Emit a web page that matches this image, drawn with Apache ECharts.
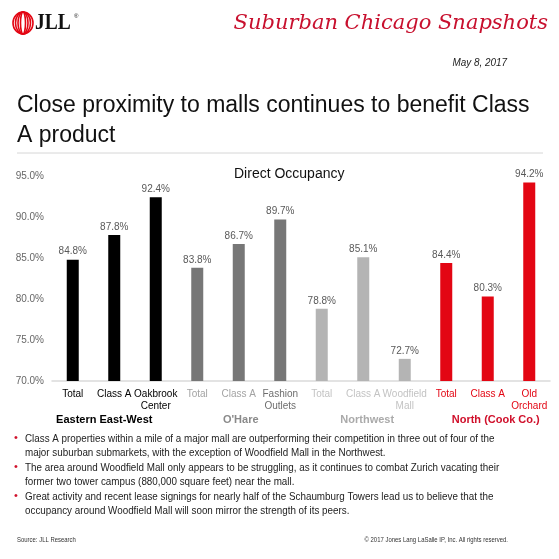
<!DOCTYPE html>
<html>
<head>
<meta charset="utf-8">
<script src="https://cdn.jsdelivr.net/npm/echarts@6/dist/echarts.min.js"></script>
<style>
html, body { margin: 0; padding: 0; background: #fff; }
#chart { width: 559px; height: 559px; }
</style>
</head>
<body>
<div id="chart"></div>
<script>
// values
const categories = ['Total', 'Class A', 'Oakbrook\nCenter', 'Total', 'Class A', 'Fashion\nOutlets',
    'Total', 'Class A', 'Woodfield\nMall', 'Total', 'Class A', 'Old\nOrchard']
const occupancy = [84.8, 87.8, 92.4, 83.8, 86.7, 89.7, 78.8, 85.1, 72.7, 84.4, 80.3, 94.2]
const submarkets = ['Eastern East-West', "O'Hare", 'Northwest', 'North (Cook Co.)']
const yTicks = [70, 75, 80, 85, 90, 95]

const barColors = ['#000000', '#777777', '#b4b4b4', '#e30613']
const labelStyles = ['c0', 'c0', 'c0', 'c1', 'c1', 'c2', 'c3', 'c3', 'c3', 'c4', 'c4', 'c4']

const font = "'Liberation Sans', Arial, sans-serif"
const red = '#d0102b'

const chart = echarts.init(document.getElementById('chart'), null, {renderer: 'canvas'})

const bullets = [
    'Class A properties within a mile of a major mall are outperforming their competition in three out of four of the\nmajor suburban submarkets, with the exception of Woodfield Mall in the Northwest.',
    'The area around Woodfield Mall only appears to be struggling, as it continues to combat Zurich vacating their\nformer two tower campus (880,000 square feet) near the mall.',
    'Great activity and recent lease signings for nearly half of the Schaumburg Towers lead us to believe that the\noccupancy around Woodfield Mall will soon mirror the strength of its peers.'
]

const graphics = []
// JLL logo
;[10, 7.5, 5, 2.5].forEach(function (rx) {
    graphics.push({
        type: 'ellipse',
        shape: {cx: 23, cy: 23, rx: rx, ry: 11},
        style: {fill: null, stroke: '#e30613', lineWidth: 1.6}
    })
})
graphics.push({
    type: 'text', x: 35, y: 12, scaleX: 0.85,
    style: {text: 'JLL', font: "bold 23px 'Liberation Serif', serif", fill: '#111'}
})
graphics.push({
    type: 'text', x: 74, y: 13,
    style: {text: '®', font: "6px 'Liberation Sans'", fill: '#111'}
})
graphics.push({
    type: 'text', x: 548, y: 13,
    style: {text: 'Suburban Chicago Snapshots', align: 'right', font: "italic 21px 'DejaVu Serif', serif", fill: '#c8102e'}
})
graphics.push({
    type: 'text', x: 507, y: 57, scaleX: 0.9,
    style: {text: 'May 8, 2017', align: 'right', font: "italic 11px " + font, fill: '#222'}
})
graphics.push({
    type: 'text', x: 17, y: 91,
    style: {text: 'Close proximity to malls continues to benefit Class\nA product', font: "23px " + font, lineHeight: 29.5, fill: '#111'}
})
graphics.push({
    type: 'line', shape: {x1: 17, y1: 153, x2: 543, y2: 153},
    style: {stroke: '#d6d6d6', lineWidth: 1}
})
bullets.forEach(function (b, i) {
    graphics.push({
        type: 'text', x: 14, y: 432 + i * 29,
        style: {text: '•', font: "11px " + font, fill: red}
    })
    graphics.push({
        type: 'text', x: 25, y: 431.5 + i * 29, scaleX: 0.855,
        style: {text: b, font: "11.5px " + font, lineHeight: 14.3, fill: '#222'}
    })
})
graphics.push({
    type: 'text', x: 17, y: 537, scaleX: 0.85,
    style: {text: 'Source: JLL Research', font: "7px " + font, fill: '#333'}
})
graphics.push({
    type: 'text', x: 508, y: 537, scaleX: 0.85,
    style: {text: '© 2017 Jones Lang LaSalle IP, Inc. All rights reserved.', align: 'right', font: "7px " + font, fill: '#333'}
})

const option = {
    animation: false,
    backgroundColor: '#fff',
    textStyle: {fontFamily: font},
    title: {
        text: 'Direct Occupancy',
        left: 229,
        top: 162,
        textStyle: {fontSize: 14, fontWeight: 'normal', color: '#111', fontFamily: font}
    },
    grid: {left: 52, right: 9, top: 176, bottom: 178},
    xAxis: [
        {
            type: 'category',
            data: categories,
            axisLine: {lineStyle: {color: '#dadada', width: 1.5}},
            axisTick: {show: false},
            axisLabel: {
                interval: 0,
                margin: 7,
                fontSize: 10,
                lineHeight: 12,
                formatter: function (v, i) {
                    return '{' + labelStyles[i] + '|' + v.split('\n').join('}\n{' + labelStyles[i] + '|') + '}'
                },
                rich: {
                    c0: {color: '#000', fontSize: 10, lineHeight: 12},
                    c1: {color: '#a3a3a3', fontSize: 10, lineHeight: 12},
                    c2: {color: '#6e6e6e', fontSize: 10, lineHeight: 12},
                    c3: {color: '#c3c3c3', fontSize: 10, lineHeight: 12},
                    c4: {color: '#e30613', fontSize: 10, lineHeight: 12}
                }
            }
        },
        {
            type: 'category',
            position: 'bottom',
            data: submarkets,
            axisLine: {show: false},
            axisTick: {show: false},
            axisLabel: {
                interval: 0,
                margin: 33,
                formatter: function (v, i) {
                    return '{g' + i + '|' + v + '}'
                },
                rich: {
                    g0: {color: '#000', fontWeight: 'bold', fontSize: 11, padding: [0, 20, 0, 0]},
                    g1: {color: '#8a8a8a', fontWeight: 'bold', fontSize: 11, padding: [0, 0, 0, 4]},
                    g2: {color: '#aaaaaa', fontWeight: 'bold', fontSize: 11, padding: [0, 0, 0, 8]},
                    g3: {color: '#d0102b', fontWeight: 'bold', fontSize: 11, padding: [0, 0, 0, 16]}
                }
            }
        }
    ],
    yAxis: {
        type: 'value',
        min: yTicks[0],
        max: yTicks[yTicks.length - 1],
        interval: 5,
        axisLine: {show: false},
        axisTick: {show: false},
        splitLine: {show: false},
        axisLabel: {
            fontSize: 10,
            color: '#666',
            margin: 8,
            formatter: function (v) {
                return v.toFixed(1) + '%'
            }
        }
    },
    series: [
        {
            type: 'bar',
            barWidth: 12,
            data: occupancy.map(function (v, i) {
                return {value: v, itemStyle: {color: barColors[Math.floor(i / 3)]}}
            }),
            label: {
                show: true,
                position: 'top',
                distance: 3,
                fontSize: 10,
                color: '#595959',
                formatter: function (p) {
                    return p.value.toFixed(1) + '%'
                }
            }
        }
    ],
    graphic: graphics
}

chart.setOption(option)
</script>
</body>
</html>
